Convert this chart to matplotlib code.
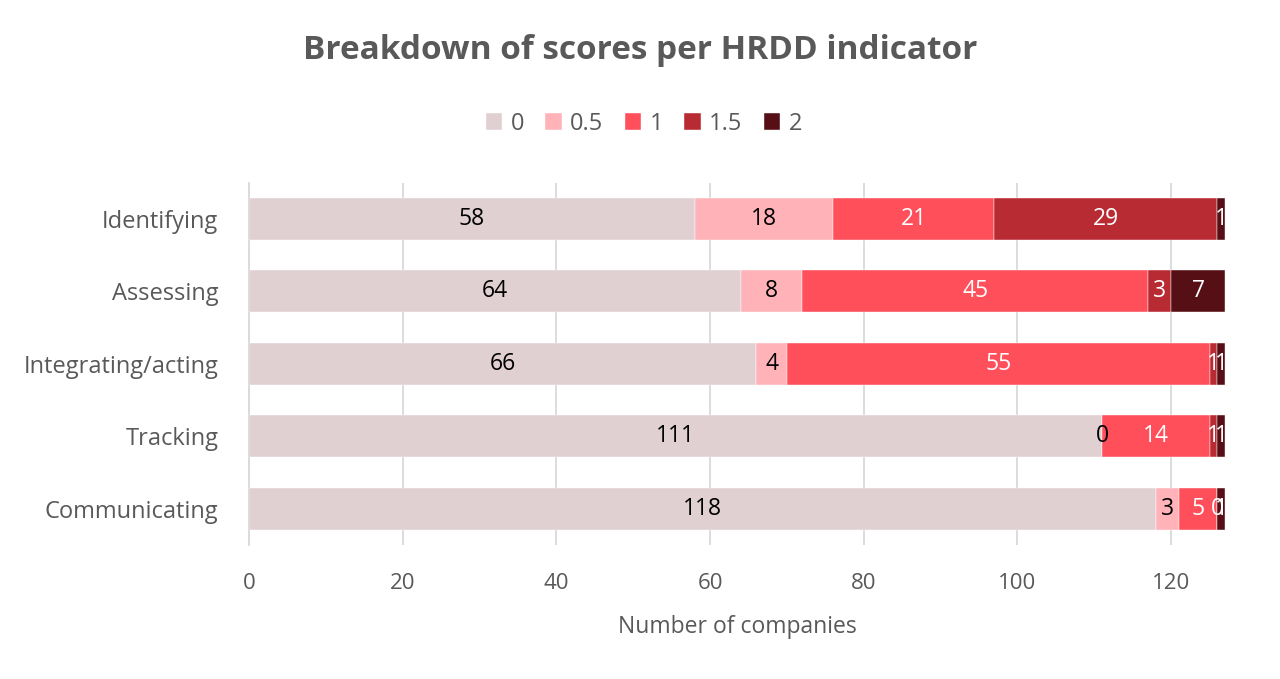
import matplotlib
matplotlib.use("Agg")
import matplotlib.pyplot as plt
import numpy as np

plt.rcParams['font.family'] = ['Open Sans', 'DejaVu Sans']

categories = ["Identifying", "Assessing", "Integrating/acting", "Tracking", "Communicating"]
score_labels = ["0", "0.5", "1", "1.5", "2"]
values = {
    "0":   [58, 64, 66, 111, 118],
    "0.5": [18, 8, 4, 0, 3],
    "1":   [21, 45, 55, 14, 5],
    "1.5": [29, 3, 1, 1, 0],
    "2":   [1, 7, 1, 1, 1],
}
colors = ["#E0D0D2", "#FFB3B8", "#FF4F5A", "#B92B33", "#561015"]
text_colors = ["black", "black", "white", "white", "white"]
xticks = [0, 20, 40, 60, 80, 100, 120]

fig = plt.figure(figsize=(12.8, 6.79), dpi=100)
ax = fig.add_axes([0.1945, 0.197, 0.7625, 0.534])

y = np.arange(len(categories))
left = np.zeros(len(categories))
for lab, col, tc in zip(score_labels, colors, text_colors):
    vals = np.array(values[lab], dtype=float)
    ax.barh(y, vals, left=left, height=0.58, color=col, label=lab,
            edgecolor="white", linewidth=0.3, zorder=3)
    for yi, (l, v) in enumerate(zip(left, vals)):
        ax.text(l + v / 2, yi, f"{int(v)}", ha="center", va="center",
                color=tc, fontsize=16.5, zorder=4)
    left += vals

ax.set_ylim(len(categories) - 0.5, -0.5)
ax.set_xlim(0, 127)
ax.set_yticks(y)
ax.set_yticklabels(categories, fontsize=17, color="#595959")
ax.set_xticks(xticks)
ax.set_xticklabels([str(t) for t in xticks], fontsize=16, color="#595959")
ax.tick_params(axis="y", length=0, pad=22)
ax.tick_params(axis="x", length=0, pad=20)
ax.grid(axis="x", color="#D9D9D9", linewidth=1.3, zorder=0)
for s in ["top", "right", "bottom"]:
    ax.spines[s].set_visible(False)
ax.spines["left"].set_color("#D9D9D9")
ax.spines["left"].set_linewidth(1.3)
ax.set_xlabel("Number of companies", fontsize=16.5, color="#595959", labelpad=15)

fig.text(0.5, 0.925, "Breakdown of scores per HRDD indicator", ha="center", va="center",
         fontsize=24, fontweight="bold", color="#595959")
fig.legend(loc="center", bbox_to_anchor=(0.503, 0.818), ncol=5, frameon=False,
           fontsize=17, handlelength=0.7, handleheight=0.7, handletextpad=0.35,
           columnspacing=0.9, labelcolor="#595959")

fig.savefig("out.png", dpi=100)
